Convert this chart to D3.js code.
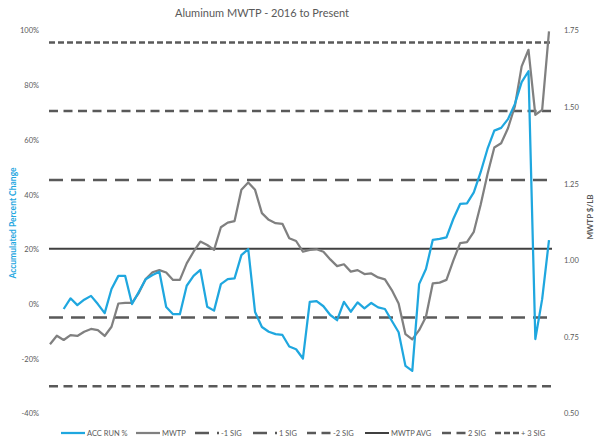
<!DOCTYPE html>
<html>
<head>
<meta charset="utf-8">
<script src="https://cdn.jsdelivr.net/npm/d3@7"></script>
<style>
  body { margin: 0; background: #fff; }
  svg { display: block; font-family: Lato, "Open Sans", sans-serif; }
</style>
</head>
<body>
<div id="chart"></div>
<script>
// accumulated run %, left axis (first two months have no value)
const accRun = [null, null, -1.8, 2.1, -0.4, 1.6, 3.0, 0.0, -3.3, 5.5, 10.3, 10.3, 0.0, 4.5, 9.1, 10.6, 11.8,
  -1.1, -3.7, -3.7, 6.7, 10.3, 12.5, -1.0, -2.4, 7.3, 9.1, 9.4, 17.9, 20.1, -2.9, -8.4, -10.1, -11.0, -11.3,
  -15.5, -16.5, -19.9, 0.8, 1.1, -0.8, -4.0, -5.9, 0.8, -2.8, 0.6, -1.6, 0.4, -1.2, -1.8, -6.1, -10.3, -22.6,
  -24.4, 7.3, 12.8, 23.5, 23.8, 24.4, 31.1, 36.6, 36.8, 40.8, 48.2, 56.7, 63.4, 64.4, 67.6, 73.1, 81.1, 85.1,
  -12.8, 1.8, 23.4];

// MWTP $/lb, right axis
const mwtp = [0.726, 0.754, 0.740, 0.756, 0.753, 0.767, 0.776, 0.772, 0.753, 0.783, 0.859, 0.861, 0.861, 0.894,
  0.939, 0.961, 0.968, 0.960, 0.936, 0.936, 0.990, 1.028, 1.061, 1.050, 1.034, 1.108, 1.123, 1.128, 1.230, 1.254,
  1.230, 1.154, 1.132, 1.121, 1.119, 1.072, 1.063, 1.028, 1.034, 1.036, 1.028, 1.003, 0.981, 0.987, 0.963, 0.968,
  0.955, 0.957, 0.944, 0.938, 0.903, 0.859, 0.759, 0.742, 0.772, 0.816, 0.925, 0.927, 0.936, 0.999, 1.056, 1.059,
  1.093, 1.181, 1.281, 1.368, 1.382, 1.431, 1.502, 1.633, 1.687, 1.475, 1.491, 1.747];

// sigma bands ($/lb)
const bandNames = ["-2 SIG", "-1 SIG", "MWTP AVG", "1 SIG", "2 SIG", "+ 3 SIG"];
const bandValues = [0.589, 0.813, 1.038, 1.262, 1.487, 1.711];

const leftTicks = [-40, -20, 0, 20, 40, 60, 80, 100];
const rightTicks = [0.50, 0.75, 1.00, 1.25, 1.50, 1.75];

const legendNames = ["ACC RUN %", "MWTP", "-1 SIG", "1 SIG", "-2 SIG", "MWTP AVG", "2 SIG", "+ 3 SIG"];

const width = 600, height = 441;
const blue = "#1fa7df", grey = "#808080", dark = "#595959";

// line styles per band / legend entry
const styles = {
  "ACC RUN %": {stroke: blue, w: 2.25, dash: null},
  "MWTP": {stroke: grey, w: 2.25, dash: null},
  "-1 SIG": {stroke: dark, w: 2.5, dash: "14,8"},
  "1 SIG": {stroke: dark, w: 2.5, dash: "14,8"},
  "-2 SIG": {stroke: dark, w: 2.5, dash: "9,5.5"},
  "2 SIG": {stroke: dark, w: 2.5, dash: "9,5.5"},
  "MWTP AVG": {stroke: "#404040", w: 2, dash: null},
  "+ 3 SIG": {stroke: dark, w: 2.5, dash: "6,3"}
};

const svg = d3.select("#chart").append("svg")
    .attr("width", width)
    .attr("height", height);

const x = d3.scaleLinear().domain([0, mwtp.length - 1]).range([50, 549]);
const yLeft = d3.scaleLinear().domain([-40, 100]).range([413.5, 30.5]);
const yRight = d3.scaleLinear().domain([0.5, 1.75]).range([413.5, 30.5]);

// title
svg.append("text")
    .attr("x", 262).attr("y", 17)
    .attr("text-anchor", "middle")
    .attr("fill", dark)
    .style("font-size", "11px")
    .text("Aluminum MWTP - 2016 to Present");

// axes (labels only)
const leftAxis = svg.append("g")
    .attr("transform", "translate(42,0)")
    .call(d3.axisLeft(yLeft).tickValues(leftTicks).tickSize(0).tickPadding(3)
        .tickFormat(d => d + "%"));
const rightAxis = svg.append("g")
    .attr("transform", "translate(561,0)")
    .call(d3.axisRight(yRight).tickValues(rightTicks).tickSize(0).tickPadding(3)
        .tickFormat(d3.format(".2f")));
[leftAxis, rightAxis].forEach(a => {
    a.select(".domain").remove();
    a.selectAll("text").attr("fill", dark).style("font-size", "7.5px").style("font-family", "Lato, sans-serif");
});

// axis titles
svg.append("text")
    .attr("transform", "translate(16,223) rotate(-90)")
    .attr("text-anchor", "middle")
    .attr("fill", blue)
    .style("font-size", "8.5px").style("font-weight", "bold")
    .text("Accumulated Percent Change");
svg.append("text")
    .attr("transform", "translate(593,217) rotate(-90)")
    .attr("text-anchor", "middle")
    .attr("fill", dark)
    .style("font-size", "8px").style("font-weight", "bold")
    .text("MWTP $/LB");

// sigma lines
bandNames.forEach((name, i) => {
    const s = styles[name];
    svg.append("line")
        .attr("x1", 49).attr("x2", 552)
        .attr("y1", yRight(bandValues[i])).attr("y2", yRight(bandValues[i]))
        .attr("stroke", s.stroke)
        .attr("stroke-width", s.w)
        .attr("stroke-dasharray", s.dash);
});

// series
const mwtpLine = d3.line().x((d, i) => x(i)).y(d => yRight(d));
const accLine = d3.line().defined(d => d != null).x((d, i) => x(i)).y(d => yLeft(d));

svg.append("path")
    .datum(mwtp)
    .attr("d", mwtpLine)
    .attr("fill", "none")
    .attr("stroke", grey)
    .attr("stroke-width", 2.25)
    .attr("stroke-linejoin", "round");

svg.append("path")
    .datum(accRun)
    .attr("d", accLine)
    .attr("fill", "none")
    .attr("stroke", blue)
    .attr("stroke-width", 2.25)
    .attr("stroke-linejoin", "round");

// legend
const legendX = [61, 136, 195, 253, 307, 365, 442, 495];
const legend = svg.append("g").attr("transform", "translate(0,433)");
legendNames.forEach((name, i) => {
    const s = styles[name];
    legend.append("line")
        .attr("x1", legendX[i]).attr("x2", legendX[i] + 24)
        .attr("y1", 0).attr("y2", 0)
        .attr("stroke", s.stroke)
        .attr("stroke-width", s.w)
        .attr("stroke-dasharray", s.dash);
    legend.append("text")
        .attr("x", legendX[i] + 26).attr("y", 2.6)
        .attr("fill", dark)
        .style("font-size", "7.5px")
        .text(name);
});
</script>
</body>
</html>
